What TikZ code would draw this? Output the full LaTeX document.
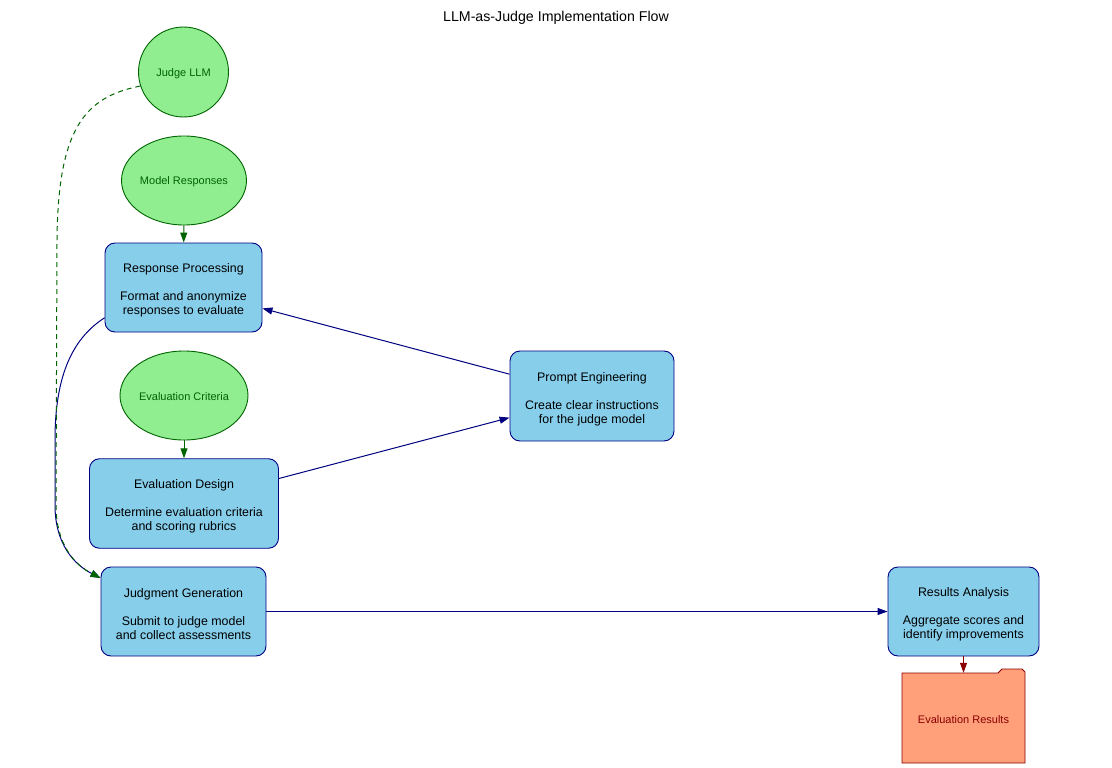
\documentclass[tikz,border=0pt]{standalone}
\usepackage{fontspec}
\setmainfont{Liberation Sans}
\usetikzlibrary{arrows.meta,shapes.geometric}
\definecolor{skyb}{HTML}{87CEEB}
\definecolor{navyc}{HTML}{000080}
\definecolor{lgreen}{HTML}{90EE90}
\definecolor{dgreen}{HTML}{006400}
\definecolor{salm}{HTML}{FFA07A}
\definecolor{dred}{HTML}{8B0000}
\newcommand{\tallstrut}{\rule{0pt}{15pt}}
\newcommand{\ellstrut}{\rule{0pt}{11pt}}
\tikzset{
  stepbox/.style={rectangle, rounded corners=10pt, draw=navyc, fill=skyb, line width=0.9pt,
    align=center, font=\fontsize{12.4}{14}\selectfont, inner sep=0pt},
  inputell/.style={ellipse, draw=dgreen, fill=lgreen, line width=0.9pt, text=dgreen,
    font=\fontsize{11}{13}\selectfont, inner sep=0pt},
  bluearrow/.style={draw=navyc, line width=1pt, -{Triangle[length=10pt,width=7pt]}},
  greenarrow/.style={draw=dgreen, line width=1pt, -{Triangle[length=10pt,width=7pt]}},
  greendash/.style={greenarrow, dash pattern=on 5pt off 4pt},
  redarrow/.style={draw=dred, line width=1pt, -{Triangle[length=10pt,width=7pt]}},
}
\begin{document}
\begin{tikzpicture}[x=1pt,y=-1pt]
\useasboundingbox (0,0) rectangle (1112,768);
\node[font=\fontsize{14.2}{17}\selectfont] (title) at (556,18) {LLM-as-Judge Implementation Flow};

\node[inputell, minimum width=90pt, minimum height=90pt] (judge) at (183.5,72) {\ellstrut Judge LLM};
\node[inputell, minimum width=125pt, minimum height=89pt] (model) at (184,180.5) {\ellstrut Model Responses};
\node[inputell, minimum width=128pt, minimum height=89pt] (crit) at (184,395.5) {\ellstrut Evaluation Criteria};

\node[stepbox, minimum width=157pt, minimum height=89pt] (resp) at (183.5,287.5)
  {\tallstrut Response Processing\\[14pt]Format and anonymize\\responses to evaluate};
\node[stepbox, minimum width=189pt, minimum height=89.5pt] (design) at (184,503.5)
  {\tallstrut Evaluation Design\\[14pt]Determine evaluation criteria\\and scoring rubrics};
\node[stepbox, minimum width=165pt, minimum height=89pt] (jgen) at (183.5,611.5)
  {\tallstrut Judgment Generation\\[14pt]Submit to judge model\\and collect assessments};
\node[stepbox, minimum width=164pt, minimum height=90pt] (prompt) at (592,396)
  {\tallstrut Prompt Engineering\\[14pt]Create clear instructions\\for the judge model};
\node[stepbox, minimum width=151pt, minimum height=89pt] (analysis) at (963.5,611.5)
  {\tallstrut Results Analysis\\[14pt]Aggregate scores and\\identify improvements};

% folder
\draw[draw=dred, fill=salm, line width=0.9pt]
  (902,673) -- (998,673) -- (1002,669) -- (1022,669) -- (1025,672) -- (1025,763) -- (902,763) -- cycle;
\node[rectangle, minimum width=123pt, minimum height=90pt, inner sep=0pt, text=dred,
  font=\fontsize{11}{13}\selectfont] (results) at (963.5,718) {\ellstrut Evaluation Results};

% edges
\draw[greenarrow] (model) -- (resp);
\draw[greenarrow] (crit) -- (design);
\draw[bluearrow] (design) -- (prompt);
\draw[bluearrow] (prompt) -- (resp);
\draw[bluearrow] (jgen) -- (analysis);
\draw[redarrow] (analysis) -- (results);
\draw[bluearrow] (resp.201) .. controls (70,340) and (55,380) .. (55,440) -- (55,505)
  .. controls (55,545) and (75,565) .. (jgen.158);
\draw[greendash] (judge.198) .. controls (85,97) and (58,128) .. (57,240) -- (56,505)
  .. controls (56,545) and (75,565) .. (jgen.158);
\end{tikzpicture}
\end{document}
